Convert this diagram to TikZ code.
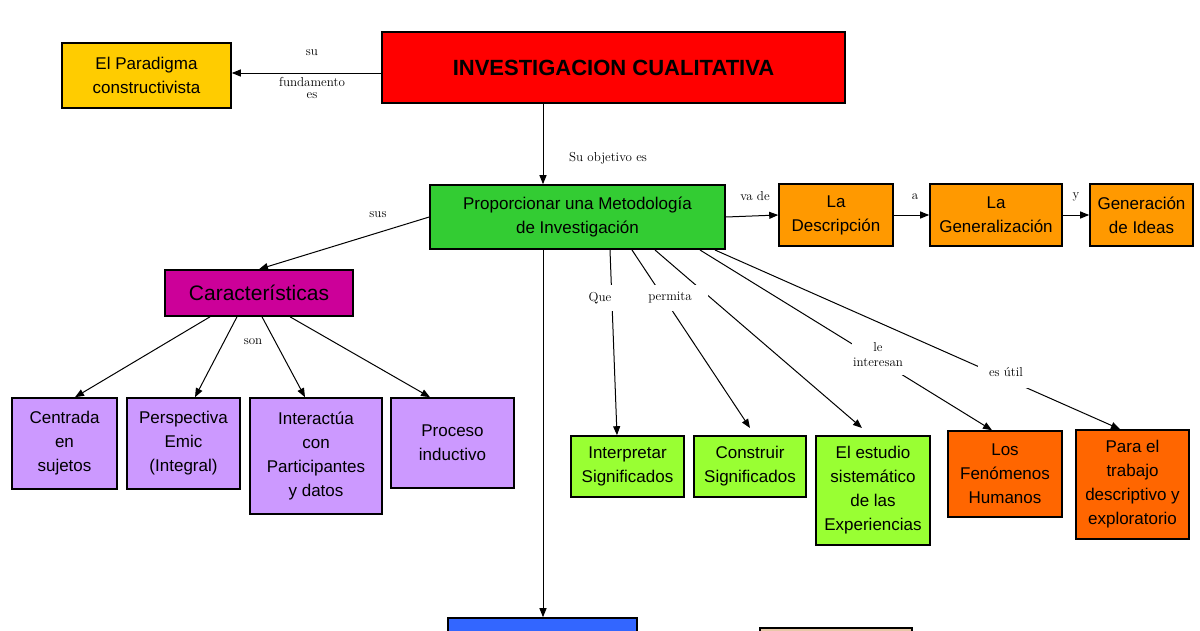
\documentclass[tikz,border=0pt]{standalone}
\usepackage{fontspec}
\setsansfont{Liberation Sans}
\usetikzlibrary{arrows.meta}
\definecolor{cyel}{HTML}{FFCC00}
\definecolor{cred}{HTML}{FF0000}
\definecolor{cgreen}{HTML}{33CC33}
\definecolor{corange}{HTML}{FF9900}
\definecolor{cmag}{HTML}{CC0099}
\definecolor{cpurp}{HTML}{CC99FF}
\definecolor{clgreen}{HTML}{99FF33}
\definecolor{cored}{HTML}{FF6600}
\definecolor{cblue}{HTML}{3366FF}
\definecolor{cbrown}{HTML}{E8C8A8}
\begin{document}
\begin{tikzpicture}[x=1pt,y=-1pt,
  box/.style={draw=black,line width=1.6pt,font=\sffamily\fontsize{17}{24}\selectfont,align=center,inner sep=0pt},
  lbl/.style={fill=white,inner sep=1pt,font=\fontsize{13}{13}\selectfont,align=center},
  arr/.style={-{Triangle[length=9pt,width=7pt]},line width=1pt}]
\fill[white] (0,0) rectangle (1200,630);
\useasboundingbox (0,0) rectangle (1200,630);
\newcommand{\bx}[7]{\node[box,fill=#6,minimum width=#4-#2,minimum height=#5-#3] (#1) at ({(#2+#4)/2},{(#3+#5)/2}) {#7};}
\bx{par}{62}{43}{231}{108}{cyel}{El Paradigma\\constructivista}
\node[box,fill=cred,minimum width=463,minimum height=71,font=\sffamily\bfseries\fontsize{22}{24}\selectfont] (inv) at (613.5,67.5) {INVESTIGACION CUALITATIVA};
\bx{met}{430}{185}{725}{249}{cgreen}{Proporcionar una Metodología\\de Investigación}
\bx{des}{779}{184}{893}{246}{corange}{La\\Descripción}
\bx{gen}{930}{184}{1062}{246}{corange}{La\\Generalización}
\bx{ide}{1090}{184}{1193}{246}{corange}{Generación\\de Ideas}
\node[box,fill=cmag,minimum width=188,minimum height=46,font=\sffamily\fontsize{21}{24}\selectfont] (car) at (259,293) {Características};
\bx{c1}{12}{398}{117}{489}{cpurp}{Centrada\\en\\sujetos}
\bx{c2}{127}{398}{240}{489}{cpurp}{Perspectiva\\Emic\\(Integral)}
\bx{c3}{250}{398}{382}{514}{cpurp}{Interactúa\\con\\Participantes\\y datos}
\bx{c4}{391}{398}{514}{488}{cpurp}{Proceso\\inductivo}
\bx{g1}{571}{436}{684}{497}{clgreen}{Interpretar\\Significados}
\bx{g2}{694}{436}{806}{497}{clgreen}{Construir\\Significados}
\bx{g3}{816}{436}{930}{545}{clgreen}{El estudio\\sistemático\\de las\\Experiencias}
\bx{o1}{948}{431}{1062}{517}{cored}{Los\\Fenómenos\\Humanos}
\bx{o2}{1076}{430}{1189}{539}{cored}{Para el\\trabajo\\descriptivo y\\exploratorio}
\bx{blue}{448}{618}{637}{660}{cblue}{}
\bx{brn}{760}{628}{912}{660}{cbrown}{}
% connectors
\draw[arr] (inv.west |- 0,73) -- (par.east |- 0,73);
\node[lbl,fill=none] at (312,53) {su};
\node[lbl,fill=none,font=\fontsize{13}{12}\selectfont] at (312,88) {fundamento\\es};
\draw[arr] (inv.south -| 543,0) -- (met.north -| 543,0);
\node[lbl] at (608,158) {Su objetivo es};
\draw[arr] (met.east) -- (des.west);
\node[lbl] at (755,196) {va de};
\draw[arr] (des.east) -- (gen.west);
\node[lbl] at (915,197) {a};
\draw[arr] (gen.east) -- (ide.west);
\node[lbl] at (1076,197) {y};
\draw[arr] (met.west) -- (car.north);
\node[lbl] at (378,215) {sus};
\draw[arr] (car.south -| 210,0) -- (c1.north -| 75,0);
\draw[arr] (car.south -| 237,0) -- (c2.north -| 195,0);
\draw[arr] (car.south -| 262,0) -- (c3.north -| 305,0);
\draw[arr] (car.south -| 290,0) -- (c4.north -| 430,0);
\node[lbl] at (253,342) {son};
\draw[arr] (met.south -| 543,0) -- (blue.north -| 543,0);
\coordinate (m1) at (610,250);
\coordinate (m2) at (632,250);
\coordinate (m3) at (655,250);
\coordinate (m4) at (700,250);
\coordinate (m5) at (715,250);
\draw[arr] (m1) -- (g1.north -| 617,0);
\draw[arr] (m2) -- (750,428);
\draw[arr] (m3) -- (862,428);
\draw[arr] (m4) -- (o1.north -| 992,0);
\draw[arr] (m5) -- (o2.north -| 1120,0);
\node[lbl,minimum width=38,minimum height=26] at (600,298) {Que};
\node[lbl,minimum width=76,minimum height=26] at (670,298) {permita};
\node[lbl,minimum height=40,font=\fontsize{13}{15}\selectfont] at (878,355) {le\\interesan};
\node[lbl,minimum width=56,minimum height=32] at (1006,372) {es útil};
\end{tikzpicture}
\end{document}
